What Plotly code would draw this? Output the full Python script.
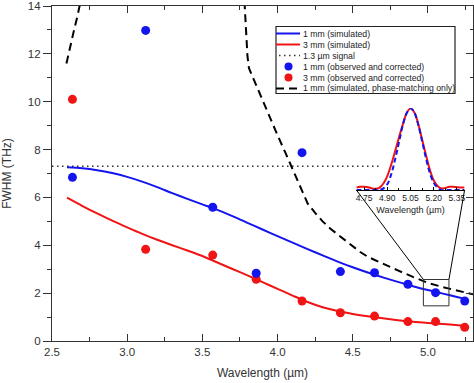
import plotly.graph_objects as go

# ---------------- data ----------------
sim_x = [2.60, 2.70, 2.80, 2.90, 3.00, 3.10, 3.20, 3.30, 3.40, 3.50, 3.60, 3.70, 3.80, 3.90,
         4.00, 4.10, 4.20, 4.30, 4.40, 4.50, 4.60, 4.70, 4.80, 4.90, 5.00, 5.10, 5.20, 5.25]
sim_1mm = [7.26, 7.22, 7.14, 7.02, 6.86, 6.66, 6.43, 6.18, 5.94, 5.71, 5.48, 5.22, 4.94, 4.66,
           4.38, 4.11, 3.84, 3.58, 3.32, 3.08, 2.86, 2.66, 2.47, 2.29, 2.13, 1.98, 1.83, 1.76]
sim_3mm = [5.99, 5.65, 5.33, 5.03, 4.75, 4.48, 4.23, 4.00, 3.78, 3.55, 3.28, 3.01, 2.74, 2.46,
           2.18, 1.90, 1.63, 1.41, 1.25, 1.13, 1.03, 0.95, 0.87, 0.80, 0.75, 0.71, 0.66, 0.63]

obs_x = [2.636, 3.123, 3.569, 3.858, 4.163, 4.418, 4.645, 4.867, 5.051, 5.245]
obs_1mm = [6.84, 12.98, 5.59, 2.83, 7.87, 2.90, 2.85, 2.37, 2.02, 1.67]
obs_3mm = [10.10, 3.83, 3.59, 2.58, 1.67, 1.18, 1.04, 0.81, 0.81, 0.57]

signal_x = [2.50, 4.68]
signal_y = [7.30, 7.30]

pm_left_x = [2.596, 2.620, 2.645, 2.670, 2.690]
pm_left_y = [11.60, 12.30, 12.95, 13.60, 14.20]
pm_right_x = [3.78, 3.79, 3.80, 3.81, 3.85, 3.90, 3.95, 4.00, 4.05, 4.10, 4.15, 4.20, 4.25, 4.30,
              4.35, 4.40, 4.45, 4.50, 4.55, 4.60, 4.65, 4.70, 4.80, 4.90, 5.00, 5.10, 5.20, 5.30]
pm_right_y = [14.2, 13.0, 11.9, 11.4, 10.8, 10.1, 9.35, 8.6, 7.9, 7.2, 6.45, 5.75, 5.35, 5.0,
              4.7, 4.45, 4.2, 3.95, 3.72, 3.52, 3.37, 3.23, 2.95, 2.68, 2.43, 2.25, 2.10, 1.95]

# inset spectra (normalised)
inset_x = [4.700, 4.725, 4.750, 4.775, 4.800, 4.825, 4.850, 4.875, 4.900, 4.925, 4.950, 4.975,
           5.000, 5.025, 5.050, 5.075, 5.100, 5.125, 5.150, 5.175, 5.200, 5.225, 5.250, 5.275,
           5.300, 5.325, 5.350, 5.375, 5.400]
inset_red = [0.03, 0.04, 0.04, 0.035, 0.02, 0.015, 0.03, 0.08, 0.17, 0.31, 0.47, 0.64,
             0.80, 0.94, 1.00, 0.95, 0.81, 0.62, 0.43, 0.25, 0.12, 0.05, 0.02, 0.025,
             0.04, 0.04, 0.035, 0.03, 0.03]
inset_blue = [0.0, 0.0, 0.0, 0.0, 0.0, 0.0, 0.0, 0.02, 0.07, 0.19, 0.37, 0.58,
              0.79, 0.94, 1.00, 0.95, 0.80, 0.60, 0.39, 0.21, 0.09, 0.03, 0.0, 0.0,
              0.0, 0.0, 0.0, 0.0, 0.0]
inset_ticks = [4.75, 4.90, 5.05, 5.20, 5.35]

zoom_box_x = [4.97, 5.14]
zoom_box_y = [1.47, 2.57]

legend_labels = ["1 mm (simulated)", "3 mm (simulated)", "1.3 \u00b5m signal",
                 "1 mm (observed and corrected)", "3 mm (observed and corrected)",
                 "1 mm (simulated, phase-matching only)"]

# ---------------- style ----------------
BLUE = "#1414ee"
RED = "#f01414"
AX = "#333333"
FONT = "Liberation Sans, Arial, sans-serif"
X_RANGE = [2.5, 5.3]
Y_RANGE = [0, 14]
INSET_XDOM = [0.723, 0.980]
INSET_YDOM = [0.4507, 0.6946]

fig = go.Figure()

fig.add_trace(go.Scatter(x=signal_x, y=signal_y, mode="lines",
                         line=dict(color=AX, width=1.5, dash="1.5px,3.5px")))
fig.add_trace(go.Scatter(x=pm_left_x, y=pm_left_y, mode="lines",
                         line=dict(color="black", width=2, dash="8px,5px")))
fig.add_trace(go.Scatter(x=pm_right_x, y=pm_right_y, mode="lines",
                         line=dict(color="black", width=2, dash="8px,5px")))
fig.add_trace(go.Scatter(x=sim_x, y=sim_3mm, mode="lines",
                         line=dict(color=RED, width=2, shape="spline", smoothing=0.8)))
fig.add_trace(go.Scatter(x=sim_x, y=sim_1mm, mode="lines",
                         line=dict(color=BLUE, width=2, shape="spline", smoothing=0.8)))
fig.add_trace(go.Scatter(x=obs_x, y=obs_3mm, mode="markers",
                         marker=dict(color=RED, size=9, line=dict(width=0))))
fig.add_trace(go.Scatter(x=obs_x, y=obs_1mm, mode="markers",
                         marker=dict(color=BLUE, size=9, line=dict(width=0))))

# invisible trace for right-hand inner ticks
fig.add_trace(go.Scatter(x=[None], y=[None], yaxis="y3", hoverinfo="skip"))

# inset
fig.add_trace(go.Scatter(x=inset_x, y=inset_red, mode="lines", xaxis="x2", yaxis="y2",
                         line=dict(color=RED, width=2, shape="spline")))
fig.add_trace(go.Scatter(x=inset_x, y=inset_blue, mode="lines", xaxis="x2", yaxis="y2",
                         line=dict(color=BLUE, width=2, dash="5px,3px", shape="spline")))

fig.update_layout(
    width=474, height=383,
    margin=dict(l=52, r=1, t=6, b=42, autoexpand=False),
    plot_bgcolor="rgba(0,0,0,0)", paper_bgcolor="white",
    showlegend=False,
    font=dict(family=FONT, size=11, color=AX),
    xaxis=dict(range=X_RANGE, domain=[0, 1], tick0=2.5, dtick=0.5, tickformat=".1f",
               ticks="inside", ticklen=7, tickcolor=AX, tickwidth=1.2,
               minor=dict(dtick=0.25, tick0=2.5, ticks="inside", ticklen=3.5, tickcolor=AX),
               showline=True, linecolor=AX, linewidth=1.3, mirror="ticks",
               showgrid=False, zeroline=False, automargin=False, ticklabeloverflow="allow",
               tickfont=dict(size=11.5),
               title=dict(text="Wavelength (\u00b5m)", standoff=11, font=dict(size=12))),
    yaxis=dict(range=Y_RANGE, dtick=2, ticks="outside", ticklen=8, tickcolor=AX, tickwidth=1.2,
               minor=dict(dtick=1, ticks="outside", ticklen=3.5, tickcolor=AX),
               showline=True, linecolor=AX, linewidth=1.3, mirror=True,
               showgrid=False, zeroline=False, automargin=False, ticklabeloverflow="allow",
               tickfont=dict(size=11.5),
               title=dict(text="FWHM (THz)", standoff=13, font=dict(size=12))),
    yaxis3=dict(range=Y_RANGE, overlaying="y", side="right", dtick=2, ticks="inside",
                ticklen=7, tickcolor=AX, tickwidth=1.2, showticklabels=False,
                minor=dict(dtick=1, ticks="inside", ticklen=3.5, tickcolor=AX),
                showline=False, showgrid=False, zeroline=False),
    xaxis2=dict(domain=INSET_XDOM, anchor="y2", range=[4.70, 5.40], tickvals=inset_ticks,
                ticktext=["%.2f" % t for t in inset_ticks],
                ticks="inside", ticklen=3, tickcolor="black",
                minor=dict(dtick=0.075, tick0=4.75, ticks="inside", ticklen=2, tickcolor="black"),
                showline=True, linecolor="black", linewidth=1, showgrid=False, zeroline=False,
                tickfont=dict(size=8.5, color="#222"), ticklabeloverflow="allow",
                title=dict(text="Wavelength (\u00b5m)", standoff=4, font=dict(size=9, color="#222"))),
    yaxis2=dict(domain=INSET_YDOM, anchor="x2", range=[0, 1.0], visible=False),
)

shapes = []
# zoom box
shapes.append(dict(type="rect", xref="x", yref="y", x0=zoom_box_x[0], x1=zoom_box_x[1],
                   y0=zoom_box_y[0], y1=zoom_box_y[1], line=dict(color=AX, width=1)))
# connecting lines (inset corners -> box top corners), expressed in main-axis data coords
def px_to_x(p):
    return X_RANGE[0] + p * (X_RANGE[1] - X_RANGE[0])
def py_to_y(p):
    return Y_RANGE[0] + p * (Y_RANGE[1] - Y_RANGE[0])
shapes.append(dict(type="line", xref="x", yref="y", x0=px_to_x(INSET_XDOM[0]), y0=py_to_y(INSET_YDOM[0]),
                   x1=zoom_box_x[0], y1=zoom_box_y[1], line=dict(color="black", width=1)))
shapes.append(dict(type="line", xref="x", yref="y", x0=px_to_x(INSET_XDOM[1]), y0=py_to_y(INSET_YDOM[0]),
                   x1=zoom_box_x[1], y1=zoom_box_y[1], line=dict(color="black", width=1)))

# manual legend (pixel layout converted to paper)
PLOT_L, PLOT_W, PLOT_T, PLOT_H = 52, 421, 6, 335
def fx(px):
    return (px - PLOT_L) / PLOT_W
def fy(py):
    return 1 - (py - PLOT_T) / PLOT_H

shapes.append(dict(type="rect", xref="paper", yref="paper", x0=fx(276), x1=fx(455),
                   y0=fy(93.5), y1=fy(26.5), line=dict(color="#222", width=1.2),
                   fillcolor="white", layer="above"))
rows = [33.5 + 11 * i for i in range(6)]
styles = [("line", BLUE, "solid"), ("line", RED, "solid"), ("line", AX, "1.5px,3.5px"),
          ("dot", BLUE, None), ("dot", RED, None), ("line", "black", "8px,5px")]
annotations = []
for ry, (kind, col, dash), lab in zip(rows, styles, legend_labels):
    if kind == "line":
        x0 = 279 if dash == "1.5px,3.5px" else 276
        shapes.append(dict(type="line", xref="paper", yref="paper", x0=fx(x0), x1=fx(300),
                           y0=fy(ry), y1=fy(ry), layer="above",
                           line=dict(color=col, width=2 if dash != "1.5px,3.5px" else 1.5, dash=dash)))
    else:
        shapes.append(dict(type="circle", xref="paper", yref="paper", xsizemode="pixel",
                           ysizemode="pixel", xanchor=fx(288.5), yanchor=fy(ry),
                           x0=-4, x1=4, y0=-4, y1=4, fillcolor=col, line=dict(width=0),
                           layer="above"))
    annotations.append(dict(text=lab, xref="paper", yref="paper", x=fx(301), y=fy(ry),
                            xanchor="left", yanchor="middle", showarrow=False,
                            font=dict(size=8.7, color="#222")))

fig.update_layout(shapes=shapes, annotations=annotations)
fig.write_html("out.html", config={"displayModeBar": False},
               post_script="document.body.style.margin='0';document.body.style.overflow='hidden';")
